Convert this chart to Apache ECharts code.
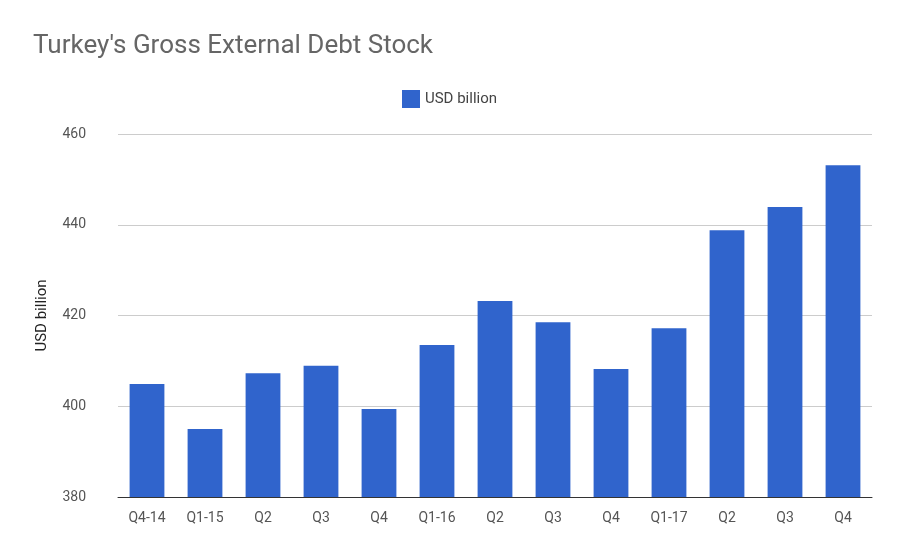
<!DOCTYPE html>
<html><head><meta charset="utf-8">
<script src="https://cdn.jsdelivr.net/npm/echarts@6/dist/echarts.min.js"></script>
<style>html,body{margin:0;padding:0;background:#fff}#c{width:899px;height:556px}</style>
</head><body><div id="c"></div>
<script>
const categories = ['Q4-14','Q1-15','Q2','Q3','Q4','Q1-16','Q2','Q3','Q4','Q1-17','Q2','Q3','Q4'];
const values = [404.9,395.0,407.3,408.9,399.4,413.5,423.2,418.5,408.2,417.2,438.8,443.9,453.1];
const seriesName = 'USD billion';
const chart = echarts.init(document.getElementById('c'));
chart.setOption({
  animation:false,
  textStyle:{fontFamily:'Roboto'},
  title:{text:"Turkey's Gross External Debt Stock",left:28,top:28,textStyle:{fontFamily:'Roboto',fontSize:26,fontWeight:'normal',color:'#666'}},
  legend:{top:85,left:'center',itemWidth:18,itemHeight:18,icon:'rect',textStyle:{fontSize:15,color:'#444'},data:[seriesName]},
  grid:{left:118,right:27,top:134,bottom:59},
  xAxis:{type:'category',data:categories,axisTick:{show:false},axisLine:{lineStyle:{color:'#333'}},axisLabel:{color:'#555',fontSize:14,margin:14,interval:0}},
  yAxis:{type:'value',min:380,max:460,interval:20,name:'USD billion',nameLocation:'middle',nameGap:68,nameTextStyle:{fontSize:15,color:'#222'},
    axisLabel:{color:'#555',fontSize:14,margin:32},splitLine:{lineStyle:{color:'#ccc'}},axisLine:{show:false},axisTick:{show:false}},
  series:[{name:seriesName,type:'bar',data:values,barWidth:'60%',itemStyle:{color:'#3064cc'}}]
});
</script></body></html>
